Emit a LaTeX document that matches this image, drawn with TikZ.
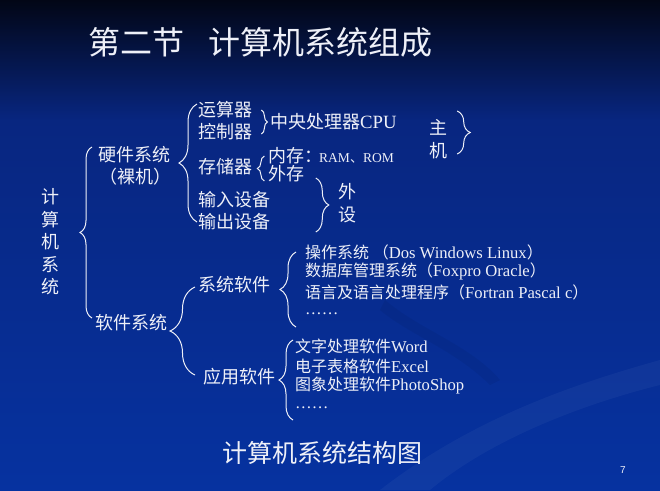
\documentclass[tikz,border=0pt]{standalone}
\usepackage{fontspec}
\setmainfont{Noto Sans CJK SC}
\newfontfamily\lat{Liberation Serif}[Scale=1.04]
\newfontfamily\pgnum{Liberation Sans}
\usepackage{tikz}
\usetikzlibrary{calc,decorations.pathreplacing}
\definecolor{bgtop}{RGB}{2,6,22}
\definecolor{bgmid}{RGB}{8,38,128}
\definecolor{bgblue}{RGB}{6,50,160}
\definecolor{txtw}{RGB}{238,240,248}

\begin{document}
\begin{tikzpicture}[
  x=1pt, y=-1pt,
  txt/.style={text=txtw, inner sep=0pt, anchor=west, font=\fontsize{18}{22}\selectfont},
  itm/.style={txt, font=\fontsize{16}{20}\selectfont},
  vert/.style={txt, anchor=center, align=center, font=\fontsize{18}{22.5}\selectfont},
  brc/.style={draw=txtw, line width=1pt, decorate, decoration={brace, amplitude=#1}},
  brc/.default=8
]
% background
\useasboundingbox (0,0) rectangle (660,490);
\fill[top color=bgtop, bottom color=bgmid] (0,0) rectangle (660,120);
\fill[top color=bgmid, bottom color=bgblue] (0,120) rectangle (660,490);
\fill[white, opacity=0.04] (380,490) .. controls (470,420) and (570,385) .. (660,360) -- (660,385) .. controls (580,405) and (490,440) .. (430,490) -- cycle;
\fill[black, opacity=0.05] (385,300) .. controls (420,330) and (470,345) .. (500,380) -- (490,385) .. controls (455,350) and (410,335) .. (380,310) -- cycle;

% titles
\node[txt, font=\fontsize{32}{36}\selectfont] (title) at (88,42) {第二节\hspace{24pt}计算机系统组成};
\node[txt, font=\fontsize{25}{30}\selectfont] (caption) at (222,453) {计算机系统结构图};
\node[text=txtw, font=\pgnum\fontsize{10}{12}\selectfont] (pagenum) at (623,470) {7};

% first level
\node[vert] (root) at (50,242) {计\\算\\机\\系\\统};
\node[txt] (hw) at (98,155) {硬件系统};
\node[txt, anchor=center] (bare) at (135,177) {（裸机）};
\node[txt] (sw) at (95,323) {软件系统};

% hardware
\node[txt] (alu) at (198,110) {运算器};
\node[txt] (ctrl) at (198,132) {控制器};
\node[txt] (mem) at (198,167) {存储器};
\node[txt] (input) at (198,200) {输入设备};
\node[txt] (output) at (198,222) {输出设备};
\node[txt] (cpu) at (270,122) {中央处理器{\lat CPU}};
\node[txt] (ram) at (268,156) {内存：\hspace{-3pt}{\fontsize{13}{15}\selectfont{\lat RAM}、{\lat ROM}}};
\node[txt] (disk) at (268,174) {外存};
\node[vert] (host) at (438,139) {主\\机};
\node[vert] (periph) at (347,203) {外\\设};

% software
\node[txt] (syssw) at (198,285) {系统软件};
\node[txt] (appsw) at (203,377) {应用软件};
\node[itm] (os) at (305,252) {操作系统 （{\lat Dos Windows Linux}）};
\node[itm] (dbms) at (305,271) {数据库管理系统（{\lat Foxpro Oracle}）};
\node[itm] (lang) at (305,292) {语言及语言处理程序（{\lat Fortran Pascal c}）};
\node[itm, font=\lat\fontsize{16}{20}\selectfont] (more1) at (305,314) {……};
\node[itm] (word) at (295,346) {文字处理软件{\lat Word}};
\node[itm] (excel) at (295,366) {电子表格软件{\lat Excel}};
\node[itm] (photo) at (295,386) {图象处理软件{\lat PhotoShop}};
\node[itm, font=\lat\fontsize{16}{20}\selectfont] (more2) at (295,408) {……};

% braces
\draw[brc=12] ($(sw.west)+(-3,-5)$) -- ($(hw.west)+(-6,-8)$);
\draw[brc=18] ($(output.west)+(-1,0)$) -- ($(alu.west)+(-1,-6)$);
\draw[brc=6] ($(alu.east)+(9,0)$) -- ($(ctrl.east)+(9,2)$);
\draw[brc=7] ($(mem.east)+(12,14)$) -- ($(mem.east)+(12,-11)$);
\draw[brc=13] ($(periph.west)+(-22,-25)$) -- ($(periph.west)+(-22,29)$);
\draw[brc=13] ($(host.east)+(10,-28)$) -- ($(host.east)+(10,15)$);
\draw[brc=25] ($(appsw.west)+(-8,-2)$) -- ($(syssw.west)+(-3,2)$);
\draw[brc=16] ($(more1.west)+(-9,13)$) -- ($(os.west)+(-9,0)$);
\draw[brc=14] ($(more2.west)+(-2,12)$) -- ($(word.west)+(-2,-6)$);

\end{tikzpicture}
\end{document}
